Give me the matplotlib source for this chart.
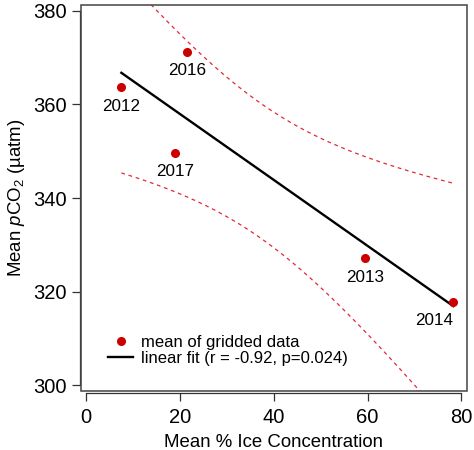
import matplotlib
matplotlib.use("Agg")
import matplotlib.pyplot as plt
import numpy as np
from matplotlib.patches import Rectangle

plt.rcParams["font.family"] = ["Liberation Sans", "DejaVu Sans"]
plt.rcParams["mathtext.fontset"] = "custom"
plt.rcParams["mathtext.rm"] = "Liberation Sans"
plt.rcParams["mathtext.it"] = "Liberation Sans:italic"

# data
years = ["2012", "2013", "2014", "2016", "2017"]
ice = [7.5, 59.5, 78.3, 21.5, 19.0]
pco2 = [363.6, 327.1, 317.8, 371.2, 349.6]
label_ha = ["center", "center", "right", "center", "center"]

x = np.array(ice)
y = np.array(pco2)
n = len(x)

# least squares fit and 95% confidence band of the mean
slope, intercept = np.polyfit(x, y, 1)
xs = np.linspace(x.min(), x.max(), 200)
fit = intercept + slope * xs
resid = y - (intercept + slope * x)
s = np.sqrt(np.sum(resid ** 2) / (n - 2))
t95 = 3.182  # t(0.975, df=3)
half = t95 * s * np.sqrt(1 / n + (xs - x.mean()) ** 2 / np.sum((x - x.mean()) ** 2))

fig = plt.figure(figsize=(4.74, 4.5), dpi=100)
ax = fig.add_axes([0.171, 0.131, 0.814, 0.858])

red = "#cc0000"
ax.plot(xs, fit + half, color="#e02a36", lw=0.9, dashes=(3, 3))
ax.plot(xs, fit - half, color="#e02a36", lw=0.9, dashes=(3, 3))
ax.plot(xs, fit, color="black", lw=1.7, label="linear fit (r = -0.92, p=0.024)")
ax.plot(x, y, "o", color=red, ms=5.5, label="mean of gridded data", zorder=5)

for xi, yi, yr, ha in zip(ice, pco2, years, label_ha):
    ax.annotate(yr, (xi, yi), xytext=(0, -8), textcoords="offset points",
                ha=ha, va="top", fontsize=12.3)

ax.set_xlim(-1.1, 81.2)
ax.set_ylim(298.8, 381.2)
ax.set_xticks([0, 20, 40, 60, 80])
ax.set_yticks([300, 320, 340, 360, 380])

# R-like axes: box round the plot, axis lines only over the tick range
for side in ["top", "right"]:
    ax.spines[side].set_visible(False)
ax.spines["bottom"].set_bounds(0, 80)
ax.spines["left"].set_bounds(300, 380)
ax.spines["bottom"].set_position(("outward", 1.5))
ax.spines["left"].set_position(("outward", 1.0))
for side in ["bottom", "left"]:
    ax.spines[side].set_color("#333333")
    ax.spines[side].set_linewidth(0.9)
ax.add_patch(Rectangle((0, 0), 1, 1, transform=ax.transAxes, fill=False,
                       edgecolor="#444444", lw=1.1, clip_on=False, zorder=6))

ax.tick_params(direction="out", length=6, width=0.9, color="#333333",
               labelsize=14.5)
ax.tick_params(axis="x", pad=5)
ax.tick_params(axis="y", pad=3)

ax.set_xlabel("Mean % Ice Concentration", fontsize=13.4, labelpad=4.5)
ax.set_ylabel(r"Mean $p$CO$_2$ (µatm)", fontsize=13.4, labelpad=5)

handles, labels = ax.get_legend_handles_labels()
ax.legend(handles[::-1], labels[::-1], loc="lower left",
          bbox_to_anchor=(0.04, 0.035), frameon=False, fontsize=12,
          handlelength=1.5, handletextpad=0.5, labelspacing=0.05,
          borderpad=0.2)

fig.savefig("out.png", dpi=100)
